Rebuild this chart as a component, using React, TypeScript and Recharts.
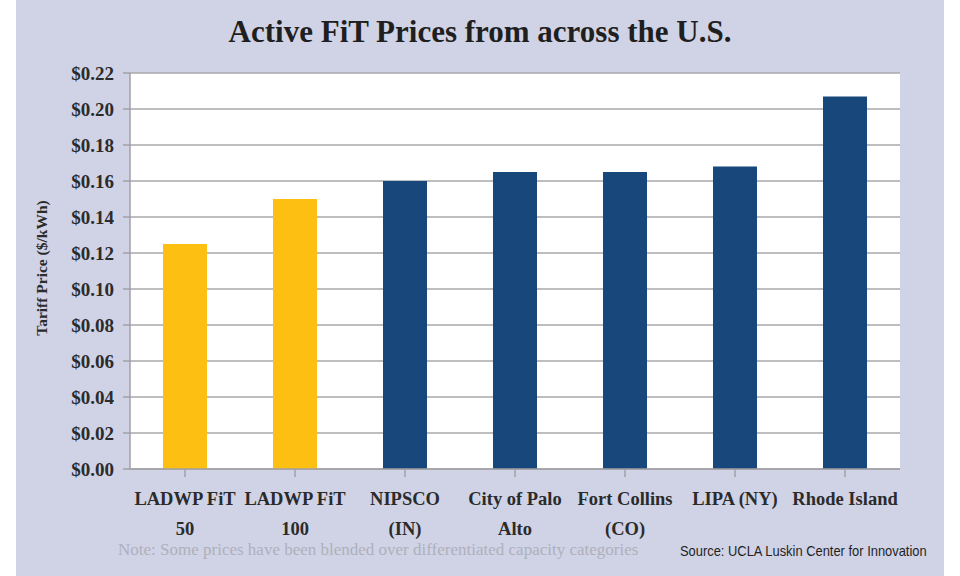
import React from "react";
import { Bar, BarChart, CartesianGrid, Cell, XAxis, YAxis } from "recharts";

// Values ($/kWh).
const programs = [
  "LADWP FiT 50",
  "LADWP FiT 100",
  "NIPSCO (IN)",
  "City of Palo Alto",
  "Fort Collins (CO)",
  "LIPA (NY)",
  "Rhode Island",
];
const labelLines = [
  ["LADWP FiT", "50"],
  ["LADWP FiT", "100"],
  ["NIPSCO", "(IN)"],
  ["City of Palo", "Alto"],
  ["Fort Collins", "(CO)"],
  ["LIPA (NY)"],
  ["Rhode Island"],
];
const prices = [0.125, 0.15, 0.16, 0.165, 0.165, 0.168, 0.207];
const isLadwp = [true, true, false, false, false, false, false];
const yTicks = [0, 0.02, 0.04, 0.06, 0.08, 0.1, 0.12, 0.14, 0.16, 0.18, 0.2, 0.22];

const data = programs.map((name, i) => ({ name, price: prices[i], idx: i }));

const SERIF = "'Liberation Serif', 'Times New Roman', serif";
const YELLOW = "#fdbf12";
const NAVY = "#17477b";
const BG = "#d0d3e6";

function XTick(props: any) {
  const { x, y, payload } = props;
  const lines = labelLines[payload.index] ?? [payload.value];
  return (
    <g transform={`translate(${x},${y})`}>
      {lines.map((l, k) => (
        <text
          key={k}
          x={0}
          y={26 + k * 30}
          textAnchor="middle"
          fontFamily={SERIF}
          fontWeight="bold"
          fontSize={18.5}
          fill="#2b2b2b"
        >
          {l}
        </text>
      ))}
    </g>
  );
}

export default function App() {
  return (
    <div style={{ position: "absolute", left: 0, top: 0, width: 960, height: 576, background: "#fff" }}>
      <div style={{ position: "absolute", left: 16, top: 0, width: 928, height: 576, background: BG }} />
      <div
        style={{
          position: "absolute",
          left: 0,
          top: 14,
          width: 960,
          textAlign: "center",
          fontFamily: SERIF,
          fontWeight: "bold",
          fontSize: 31,
          color: "#1f1f1f",
        }}
      >
        Active FiT Prices from across the U.S.
      </div>
      <div
        style={{
          position: "absolute",
          left: 42,
          top: 268,
          transform: "translate(-50%, -50%) rotate(-90deg)",
          whiteSpace: "nowrap",
          fontFamily: SERIF,
          fontWeight: "bold",
          fontSize: 15.5,
          color: "#2b2b2b",
        }}
      >
        Tariff Price ($/kWh)
      </div>
      <div style={{ position: "absolute", left: 0, top: 0 }}>
        <BarChart
          width={960}
          height={576}
          data={data}
          margin={{ top: 73, right: 60, bottom: 106, left: 70 }}
          barCategoryGap="30%"
        >
          <CartesianGrid vertical={false} stroke="#a8a8ac" strokeWidth={1.5} fill="#ffffff" />
          <XAxis
            dataKey="name"
            interval={0}
            tick={<XTick />}
            tickSize={8}
            axisLine={{ stroke: "#a0a0a4", strokeWidth: 1.5 }}
            tickLine={{ stroke: "#a0a0a4", strokeWidth: 1.5 }}
            height={1}
          />
          <YAxis
            domain={[0, 0.22]}
            ticks={yTicks}
            width={60}
            tickSize={7}
            tickMargin={9}
            tickFormatter={(v: number) => `$${v.toFixed(2)}`}
            tick={{ fontFamily: SERIF, fontWeight: "bold", fontSize: 19, fill: "#2b2b2b" }}
            axisLine={{ stroke: "#a0a0a4", strokeWidth: 1.5 }}
            tickLine={{ stroke: "#a0a0a4", strokeWidth: 1.5 }}
          />
          <YAxis
            yAxisId="edge"
            orientation="right"
            width={0}
            tick={false}
            tickLine={false}
            axisLine={{ stroke: "#c4c6d6", strokeWidth: 2 }}
          />
          <Bar dataKey="price" isAnimationActive={false}>
            {data.map((d) => (
              <Cell key={d.name} fill={isLadwp[d.idx] ? YELLOW : NAVY} />
            ))}
          </Bar>
        </BarChart>
      </div>
      <div
        style={{
          position: "absolute",
          left: 118,
          top: 540,
          fontFamily: SERIF,
          fontSize: 17,
          color: "#aeb0bb",
          whiteSpace: "nowrap",
        }}
      >
        Note: Some prices have been blended over differentiated capacity categories
      </div>
      <div
        style={{
          position: "absolute",
          left: 680,
          top: 542,
          fontFamily: "'Liberation Sans Narrow', 'Liberation Sans', sans-serif",
          fontSize: 15,
          color: "#1f1f1f",
          whiteSpace: "nowrap",
          transform: "scaleX(0.86)",
          transformOrigin: "left center",
        }}
      >
        Source: UCLA Luskin Center for Innovation
      </div>
    </div>
  );
}
